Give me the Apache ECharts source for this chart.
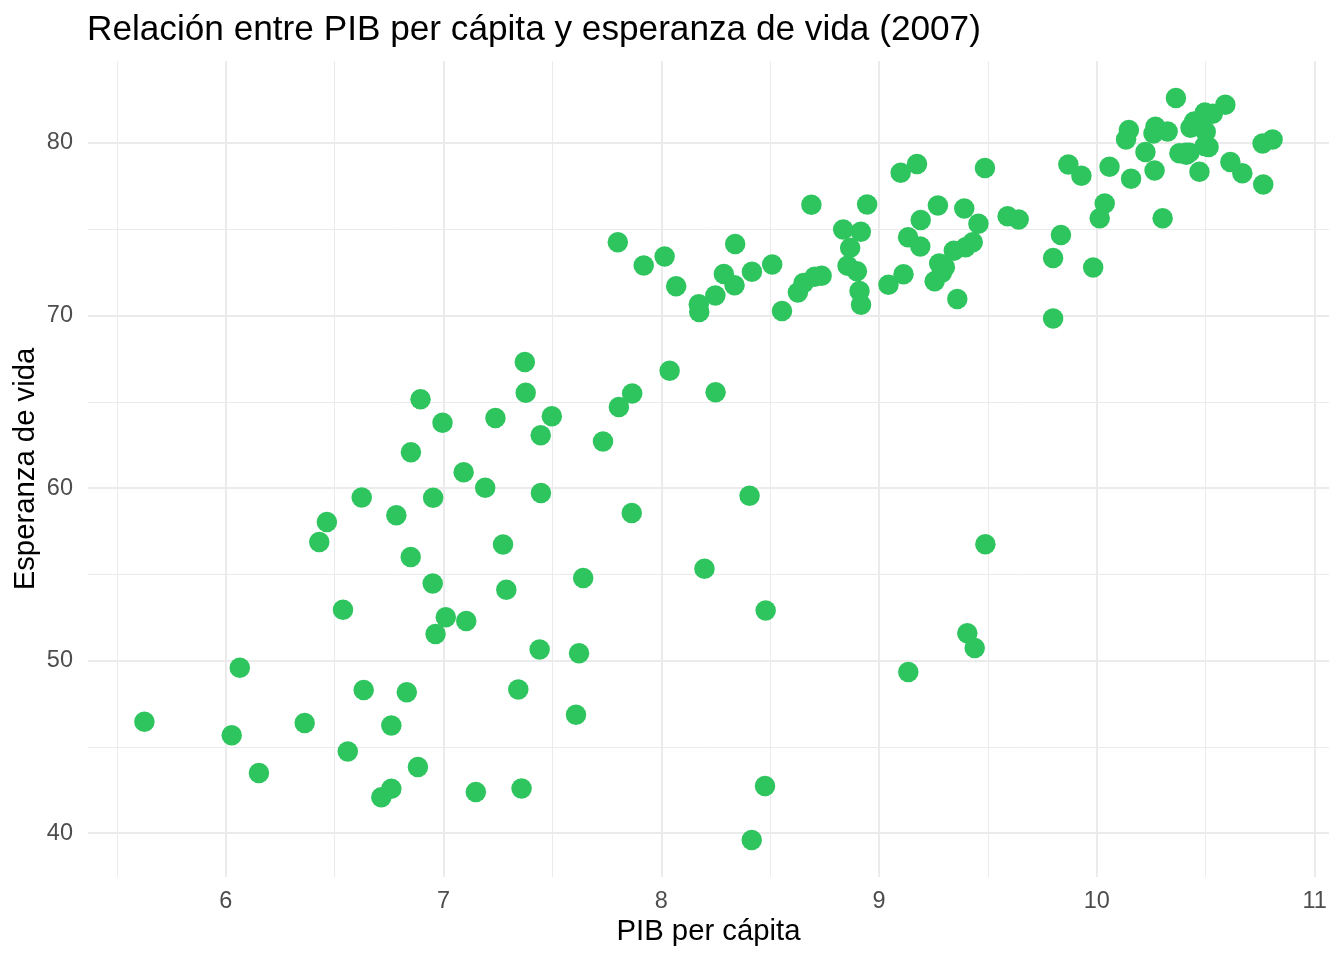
<!DOCTYPE html>
<html>
<head>
<meta charset="utf-8">
<script src="https://cdn.jsdelivr.net/npm/echarts@6/dist/echarts.min.js"></script>
<style>
    html, body { margin: 0; padding: 0; background: #ffffff; }
    #chart { width: 1344px; height: 960px; }
</style>
</head>
<body>
<div id="chart"></div>
<script>
// gapminder 2007: log(PIB per cápita) y esperanza de vida
var countries = ["Afghanistan","Albania","Algeria","Angola","Argentina","Australia","Austria","Bahrain","Bangladesh","Belgium",
    "Benin","Bolivia","Bosnia and Herzegovina","Botswana","Brazil","Bulgaria","Burkina Faso","Burundi","Cambodia","Cameroon",
    "Canada","Central African Republic","Chad","Chile","China","Colombia","Comoros","Congo, Dem. Rep.","Congo, Rep.","Costa Rica",
    "Cote d'Ivoire","Croatia","Cuba","Czech Republic","Denmark","Djibouti","Dominican Republic","Ecuador","Egypt","El Salvador",
    "Equatorial Guinea","Eritrea","Ethiopia","Finland","France","Gabon","Gambia","Germany","Ghana","Greece",
    "Guatemala","Guinea","Guinea-Bissau","Haiti","Honduras","Hong Kong","Hungary","Iceland","India","Indonesia",
    "Iran","Iraq","Ireland","Israel","Italy","Jamaica","Japan","Jordan","Kenya","Korea, Dem. Rep.",
    "Korea, Rep.","Kuwait","Lebanon","Lesotho","Liberia","Libya","Madagascar","Malawi","Malaysia","Mali",
    "Mauritania","Mauritius","Mexico","Mongolia","Montenegro","Morocco","Mozambique","Myanmar","Namibia","Nepal",
    "Netherlands","New Zealand","Nicaragua","Niger","Nigeria","Norway","Oman","Pakistan","Panama","Paraguay",
    "Peru","Philippines","Poland","Portugal","Puerto Rico","Reunion","Romania","Rwanda","Sao Tome and Principe","Saudi Arabia",
    "Senegal","Serbia","Sierra Leone","Singapore","Slovak Republic","Slovenia","Somalia","South Africa","Spain","Sri Lanka",
    "Sudan","Swaziland","Sweden","Switzerland","Syria","Taiwan","Tanzania","Thailand","Togo","Trinidad and Tobago",
    "Tunisia","Turkey","Uganda","United Kingdom","United States","Uruguay","Venezuela","Vietnam","West Bank and Gaza","Yemen, Rep.",
    "Zambia","Zimbabwe"];

var logGdp = [6.882,8.689,8.736,8.476,9.456,10.447,10.495,10.302,7.238,10.425,
    7.273,8.249,8.916,9.439,9.112,9.276,7.104,6.064,7.447,7.622,
    10.500,6.560,7.441,9.486,8.509,8.855,6.894,5.626,8.198,9.174,
    7.343,9.590,9.099,10.036,10.471,7.641,8.704,8.835,8.627,8.653,
    9.405,6.464,6.538,10.411,10.325,9.488,6.624,10.379,7.191,10.223,
    8.554,6.849,6.362,7.092,8.174,10.590,9.799,10.496,7.805,8.172,
    9.359,8.405,10.613,10.147,10.260,8.898,10.363,8.416,7.288,7.373,
    10.058,10.764,9.255,7.358,6.027,9.397,6.952,6.633,9.430,6.950,
    7.497,9.302,9.391,8.038,9.133,8.248,6.714,6.850,8.479,6.995,
    10.513,10.134,7.919,6.429,7.608,10.807,10.013,7.866,9.191,8.336,
    8.910,8.068,9.641,9.929,9.869,8.945,9.288,6.760,7.377,9.983,
    7.446,9.189,6.760,10.761,9.835,10.157,6.831,9.134,10.269,8.287,
    7.864,8.415,10.430,10.532,8.339,10.265,7.010,8.917,6.783,9.799,
    8.867,9.043,6.963,10.410,10.668,9.270,9.343,7.800,8.015,7.732,
    7.148,6.152];

var lifeExp = [43.83,76.42,72.30,42.73,75.32,81.24,79.83,75.64,64.06,79.44,
    56.73,65.55,74.85,50.73,72.39,73.01,52.30,49.58,59.72,50.43,
    80.65,44.74,50.65,78.55,72.96,72.89,65.15,46.46,55.32,78.78,
    48.33,75.75,78.27,76.49,78.33,54.79,72.24,74.99,71.34,71.88,
    51.58,58.04,52.95,79.31,80.66,56.74,59.45,79.41,60.02,79.48,
    70.26,56.01,46.39,60.92,70.20,82.21,73.34,81.76,64.70,70.65,
    70.96,59.55,78.89,80.75,80.55,72.57,82.60,72.54,54.11,67.30,
    78.62,77.59,71.99,42.59,45.68,73.95,59.44,48.30,74.24,54.47,
    64.16,72.80,76.20,66.80,74.54,71.16,42.08,62.07,52.91,63.79,
    79.76,80.20,72.90,56.87,46.86,80.20,75.64,65.48,75.54,71.75,
    71.42,71.69,75.56,78.10,78.75,76.44,72.48,46.24,65.53,72.78,
    63.06,74.00,42.57,79.97,74.66,77.93,48.16,49.34,80.94,72.40,
    58.56,39.61,80.88,81.70,74.14,78.40,52.52,70.62,58.42,69.82,
    73.92,71.78,51.54,79.43,78.24,76.38,73.75,74.25,73.42,62.70,
    42.38,43.49];

var xMajorTicks = [6, 7, 8, 9, 10, 11];
var xMinorTicks = [5.5, 6.5, 7.5, 8.5, 9.5, 10.5];
var yMajorTicks = [40, 50, 60, 70, 80];
var yMinorTicks = [45, 55, 65, 75];

var xMin = 5.367, xMax = 11.066;
var yMin = 37.46, yMax = 84.75;

var points = logGdp.map(function (v, i) {
    return { name: countries[i], value: [v, lifeExp[i]] };
});

var gridColor = '#ebebeb';
var font = 'Liberation Sans, Arial, sans-serif';

function makeAxis(ticks, isMajor, min, max, labelMargin, extra) {
    var axis = {
        type: 'value',
        min: min,
        max: max,
        nameMoveOverlap: false,
        axisLine: { show: false },
        axisTick: { show: false, customValues: ticks },
        axisLabel: {
            show: isMajor,
            customValues: ticks,
            margin: labelMargin,
            color: '#4d4d4d',
            fontSize: 23.5,
            fontFamily: font
        },
        splitLine: {
            show: true,
            lineStyle: { color: gridColor, width: isMajor ? 2 : 1 }
        }
    };
    for (var k in extra) { axis[k] = extra[k]; }
    return axis;
}

var chart = echarts.init(document.getElementById('chart'));

var option = {
    animation: false,
    backgroundColor: '#ffffff',
    title: {
        text: 'Relación entre PIB per cápita y esperanza de vida (2007)',
        left: 82,
        top: 8,
        textStyle: {
            color: '#000000',
            fontWeight: 'normal',
            fontSize: 35.2,
            fontFamily: font
        }
    },
    tooltip: {
        trigger: 'item',
        formatter: function (p) {
            return p.name + '<br/>' + p.value[0] + ' / ' + p.value[1];
        }
    },
    grid: { left: 88, right: 15, top: 61, bottom: 83, outerBoundsMode: 'none', containLabel: false },
    xAxis: [
        makeAxis(xMinorTicks, false, xMin, xMax, 13, { position: 'bottom' }),
        makeAxis(xMajorTicks, true, xMin, xMax, 13, {
            position: 'bottom',
            name: 'PIB per cápita',
            nameLocation: 'middle',
            nameGap: 40,
            nameTextStyle: { color: '#000000', fontSize: 29.3, fontFamily: font }
        })
    ],
    yAxis: [
        makeAxis(yMinorTicks, false, yMin, yMax, 15, { position: 'left' }),
        makeAxis(yMajorTicks, true, yMin, yMax, 15, {
            position: 'left',
            name: 'Esperanza de vida',
            nameLocation: 'middle',
            nameGap: 48,
            nameTextStyle: { color: '#000000', fontSize: 29.3, fontFamily: font }
        })
    ],
    series: [{
        type: 'scatter',
        xAxisIndex: 1,
        yAxisIndex: 1,
        symbol: 'circle',
        symbolSize: 20.5,
        itemStyle: { color: '#2ec55f', opacity: 1 },
        data: points
    }]
};

chart.setOption(option);
</script>
</body>
</html>
